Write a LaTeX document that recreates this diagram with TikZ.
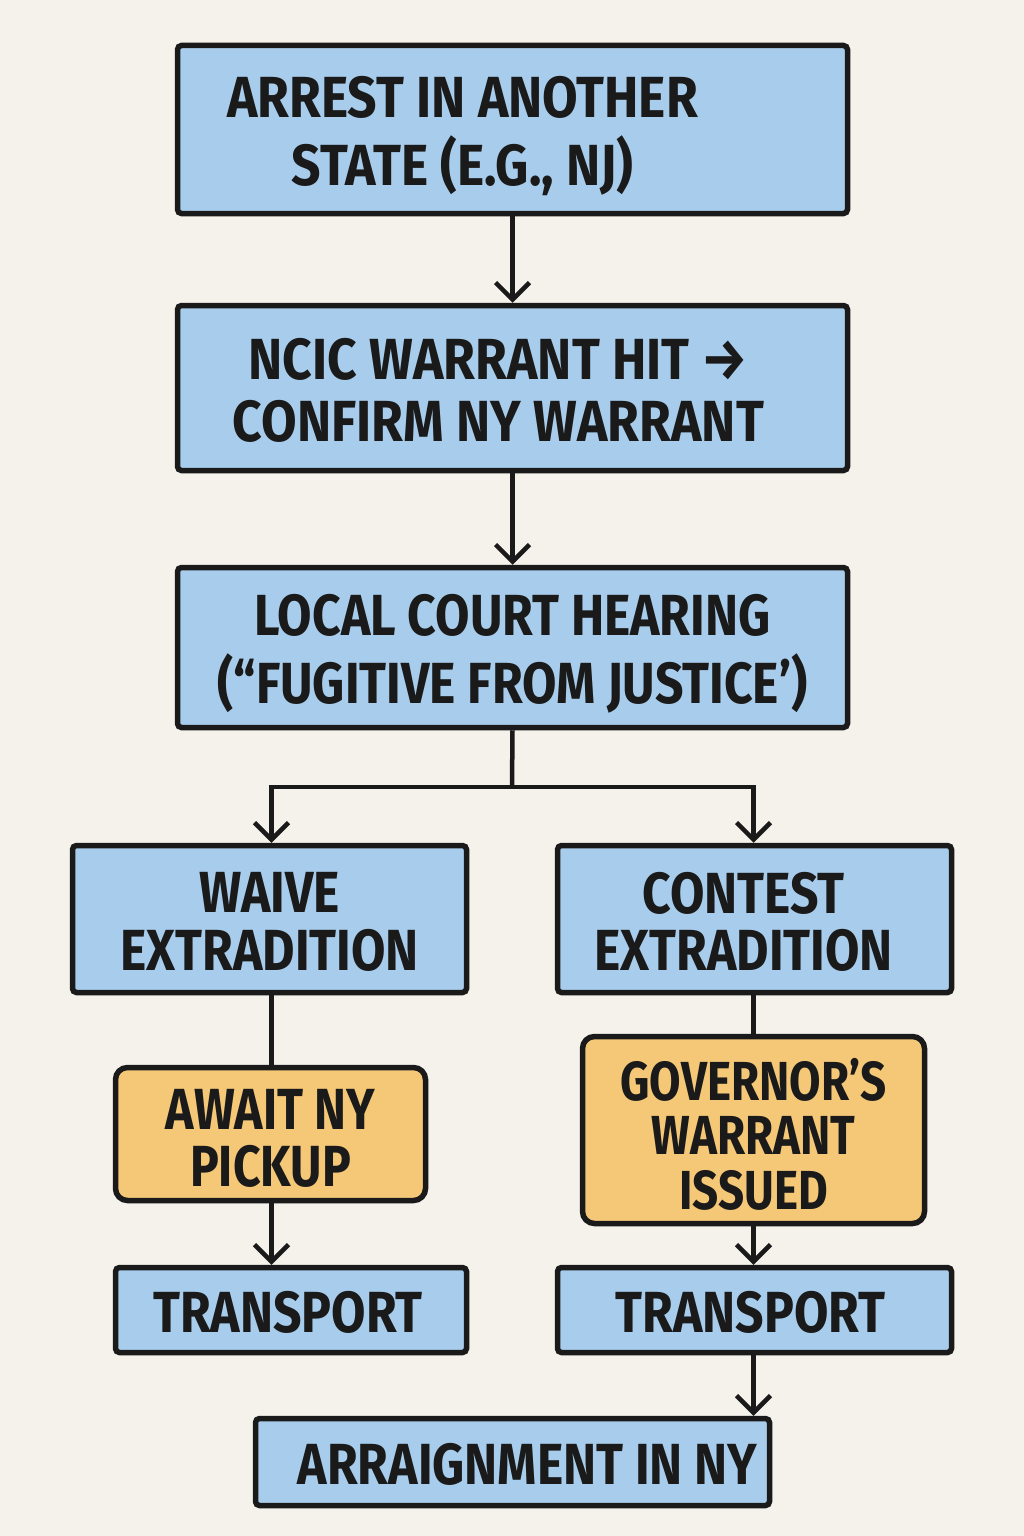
\documentclass[tikz,border=0pt]{standalone}
\usepackage{fontspec}
\newfontfamily\lbl{Fira Sans}[FakeStretch=0.89]
\newfontfamily\lblm{Fira Sans}[FakeStretch=0.86]
\newfontfamily\lbln{Fira Sans}[FakeStretch=0.83]
\usetikzlibrary{arrows.meta}
\definecolor{bg}{HTML}{F5F2EC}
\definecolor{boxblue}{HTML}{A8CDEC}
\definecolor{boxorange}{HTML}{F5C878}
\definecolor{ink}{HTML}{1A1A1A}
% #1 font size, #2 line spacing, #3 lines
\newcommand{\txt}[3]{{\fontsize{#1}{#2}\selectfont
  \raisebox{\dimexpr -22pt + #2pt/5\relax}[\height][\depth]{\begin{tabular}{@{}c@{}}#3\end{tabular}}}}
\tikzset{
  blue box/.style={draw=ink, line width=5.5pt, fill=boxblue, rounded corners=4pt,
    inner sep=0pt, font=\lbl\bfseries, text=ink},
  orange box/.style={blue box, fill=boxorange, rounded corners=12pt},
  link/.style={draw=ink, line width=4.5pt},
  flow/.style={link, -{Straight Barb[length=17pt, width=34pt, line width=4.5pt]}}
}
\begin{document}
\begin{tikzpicture}[x=1pt, y=-1pt]
\fill[bg] (0,0) rectangle (1024,1536);
\useasboundingbox (0,0) rectangle (1024,1536);

\node[blue box, minimum width=670pt, minimum height=168pt] (b1) at (512.5,129.5)
  {\txt{58}{63}{ARREST IN ANOTHER\\STATE (E.G., NJ)}\hspace*{100pt}};
\node[blue box, minimum width=670pt, minimum height=165pt] (b2) at (512.5,388)
  {\txt{58}{62}{NCIC WARRANT HIT →\\CONFIRM NY WARRANT}\hspace*{28pt}};
\node[blue box, font=\lblm\bfseries, minimum width=670pt, minimum height=160pt] (b3) at (512.5,647.5)
  {\txt{58}{60}{LOCAL COURT HEARING\\(“FUGITIVE FROM JUSTICE’)}};

\node[blue box, font=\lblm\bfseries, minimum width=394pt, minimum height=147pt] (waive) at (269.5,919)
  {\txt{58}{56}{WAIVE\\EXTRADITION}};
\node[blue box, font=\lblm\bfseries, minimum width=394pt, minimum height=147pt] (contest) at (754.5,919)
  {\txt{58}{56}{CONTEST\\EXTRADITION}\hspace*{22pt}};

\node[orange box, font=\lbln\bfseries, minimum width=310pt, minimum height=133pt] (await) at (270.5,1134)
  {\txt{58}{52}{AWAIT NY\\PICKUP}};
\node[orange box, font=\lbln\bfseries, minimum width=342pt, minimum height=187pt] (gov) at (753.5,1130)
  {\txt{55}{52}{GOVERNOR’S\\WARRANT\\ISSUED}};

\node[blue box, font=\lblm\bfseries, minimum width=351pt, minimum height=85pt] (tl) at (291,1310)
  {\txt{58}{60}{TRANSPORT}\hspace*{6pt}};
\node[blue box, font=\lblm\bfseries, minimum width=394pt, minimum height=85pt] (tr) at (754.5,1310)
  {\txt{58}{60}{TRANSPORT}\hspace*{8pt}};

\node[blue box, font=\lblm\bfseries, minimum width=514pt, minimum height=87pt] (ar) at (512.5,1462)
  {\hspace*{30pt}\txt{58}{60}{ARRAIGNMENT IN NY}};

\coordinate (split) at (512,787);

\draw[flow] (b1.south) -- (b2.north);
\draw[flow] (b2.south) -- (b3.north);
\draw[link] (b3.south) -- (split);
\draw[flow] (split) -| ([xshift=2pt]waive.north);
\draw[flow] (split) -| ([xshift=-1pt]contest.north);
\draw[link] ([xshift=2pt]waive.south) -- ([xshift=2pt]waive.south |- await.north);
\draw[link] ([xshift=-1pt]contest.south) -- ([xshift=-1pt]contest.south |- gov.north);
\draw[flow] ([xshift=1pt]await.south) -- ([xshift=1pt]await.south |- tl.north);
\draw[flow] (gov.south) -- (gov.south |- tr.north);
\draw[flow] ([xshift=-1pt]tr.south) -- ([xshift=-1pt]tr.south |- ar.north);
\end{tikzpicture}
\end{document}
